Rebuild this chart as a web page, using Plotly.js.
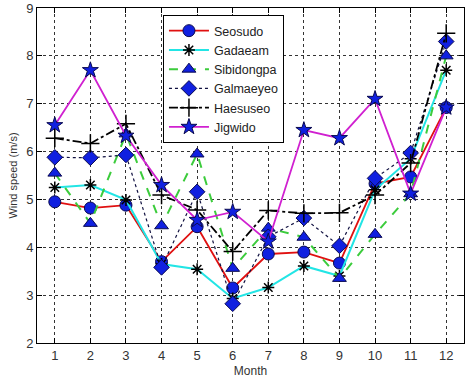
<!DOCTYPE html>
<html>
<head>
<meta charset="utf-8">
<script src="https://cdn.plot.ly/plotly-3.0.1.min.js"></script>
<style>html,body{margin:0;padding:0;background:#fff;}#chart{width:474px;height:379px;}</style>
</head>
<body>
<div id="chart"></div>
<script>
const months = [1,2,3,4,5,6,7,8,9,10,11,12];
const seosudo    = [4.95,4.82,4.88,3.70,4.43,3.15,3.86,3.90,3.67,5.33,5.47,6.92];
const gadaeam    = [5.25,5.30,4.99,3.65,3.54,2.93,3.16,3.61,3.40,5.20,5.85,7.70];
const sibidongpa = [5.55,4.50,6.37,4.45,5.95,3.56,4.40,4.21,3.35,4.27,5.12,8.00];
const galmaeyeo  = [5.88,5.87,5.93,3.58,5.16,2.82,4.22,4.61,4.03,5.44,5.97,8.30];
const haesuseo   = [6.28,6.17,6.58,5.09,4.78,3.91,4.77,4.71,4.72,5.09,5.76,8.47];
const jigwido    = [6.55,7.70,6.33,5.30,4.57,4.74,4.12,6.45,6.28,7.10,5.12,6.92];

const names = ['Seosudo','Gadaeam','Sibidongpa','Galmaeyeo','Haesuseo','Jigwido'];
const series = [seosudo,gadaeam,sibidongpa,galmaeyeo,haesuseo,jigwido];
const lineColors = ['#e01010','#22e5e5','#3ccc3c','#101040','#000000','#d020d0'];
const dashes = ['solid','solid','dash','dot','dashdot','solid'];
const widths = [1.8,2,2,1.2,1.8,1.8];
const symbols = ['circle','asterisk-open','triangle-up','diamond','cross-thin-open','star'];
const mColors = ['#1020e0','#000000','#1020e0','#1020e0','#000000','#1020e0'];
const mSizes = [12,10,12,12,13,12];

const traces = series.map((s,i)=>({
  x: months, y: s, name: names[i], type:'scatter', mode:'lines+markers',
  line:{color:lineColors[i], width:widths[i], dash:dashes[i]},
  marker:{symbol:symbols[i], size:mSizes[i], color:mColors[i],
    line:{color: (i===1||i===4)?'#000000':'#0a0a50', width:(i===1||i===4)?1.5:1}}
}));

const axisCommon = {
  showline:true, linecolor:'#000', linewidth:1, mirror:'ticks',
  ticks:'inside', ticklen:5, tickcolor:'#000',
  showgrid:true, gridcolor:'#333', griddash:'dot', gridwidth:1,
  zeroline:false,
  tickfont:{family:'Liberation Sans, Arial, sans-serif', size:13, color:'#333'}
};

const layout = {
  width:474, height:379,
  margin:{l:37, r:10, t:8, b:36},
  paper_bgcolor:'#fff', plot_bgcolor:'#fff',
  showlegend:true,
  xaxis: Object.assign({}, axisCommon, {
    range:[0.5,12.5], tickvals:months, ticktext:months.map(String),
    title:{text:'Month', font:{family:'Liberation Sans, Arial, sans-serif', size:12, color:'#333'}, standoff:5}
  }),
  yaxis: Object.assign({}, axisCommon, {
    range:[2,9], tickvals:[2,3,4,5,6,7,8,9],
    title:{text:'Wind speed (m/s)', font:{family:'Liberation Sans, Arial, sans-serif', size:11, color:'#333'}, standoff:6}
  }),
  legend:{
    x:0.295, y:0.979, xanchor:'left', yanchor:'top',
    bgcolor:'#fff', bordercolor:'#000', borderwidth:1,
    font:{family:'Liberation Sans, Arial, sans-serif', size:12.5, color:'#222'},
    tracegroupgap:0, itemwidth:40
  }
};

Plotly.newPlot('chart', traces, layout, {displayModeBar:false, staticPlot:true});
</script>
</body>
</html>
